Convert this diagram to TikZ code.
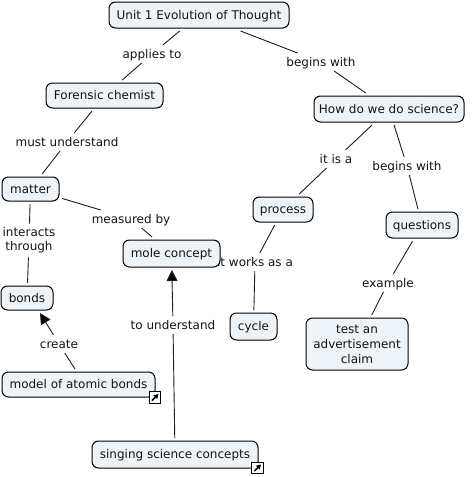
\documentclass[tikz,border=0pt]{standalone}
\usepackage{fontspec}
\setmainfont{DejaVu Sans}
\usetikzlibrary{arrows.meta}
\definecolor{conceptfill}{RGB}{237,243,246}
\definecolor{inkc}{RGB}{20,20,20}
\definecolor{linkc}{RGB}{30,30,30}
\tikzset{
  concept/.style 2 args={draw=black,line width=1pt,fill=conceptfill,rounded corners=6.5pt,
    minimum width=#1pt,minimum height=#2pt,inner sep=0pt,outer sep=3pt,align=center,text=inkc,
    font=\fontsize{12}{15}\selectfont},
  oneline/.style={text height=9.5pt,text depth=0.5pt},
  oneconcept/.style={text height=9.5pt,text depth=1.5pt},
  linklabel/.style={inner sep=1pt,outer sep=3pt,align=center,text=inkc,font=\fontsize{12}{15}\selectfont},
  link/.style={draw=linkc,line width=0.9pt},
  arrowlink/.style={link,-{Triangle[length=11pt,width=11pt,fill=black]}},
  badge/.style={draw=black,line width=1pt,fill=white,minimum size=11.5pt,inner sep=0pt,outer sep=0pt},
  badgearrow/.style={draw=black,line width=1.5pt,-{Triangle[length=4.5pt,width=5pt]}}
}
\begin{document}
\begin{tikzpicture}[x=1pt,y=-1pt]
\useasboundingbox (0,0) rectangle (472,477);
% linking phrases (drawn first: a concept box may cover them)
\node[linklabel,oneline] (lapplies) at (152,54) {applies to};
\node[linklabel,oneline] (lbegins1) at (321,62) {begins with};
\node[linklabel,oneline] (lmust) at (67,142) {must understand};
\node[linklabel,oneline] (litis) at (336,159) {it is a};
\node[linklabel,oneline] (lbegins2) at (407,166) {begins with};
\node[linklabel,oneline] (lmeasured) at (131,219) {measured by};
\node[linklabel] (linteracts) at (29,240.5) {interacts\\[-1pt]through};
\node[linklabel,oneline] (lworks) at (255,262) {it works as a};
\node[linklabel,oneline] (lexample) at (388,283) {example};
\node[linklabel,oneline] (lunder) at (173,325) {to understand};
\node[linklabel,oneline] (lcreate) at (59,344) {create};
% concepts
\node[concept={180}{26},oneconcept] (unit) at (199,15) {Unit 1 Evolution of Thought};
\node[concept={117}{25},oneconcept] (forensic) at (104.5,95.5) {Forensic chemist};
\node[concept={150}{26},oneconcept] (how) at (389,109) {How do we do science?};
\node[concept={57}{24},oneconcept] (matter) at (30.5,189) {matter};
\node[concept={60}{25},oneconcept] (process) at (283,209.5) {process};
\node[concept={72}{26},oneconcept] (questions) at (422,225) {questions};
\node[concept={97}{27},oneconcept] (mole) at (171.5,253.5) {mole concept};
\node[concept={52}{24},oneconcept] (bonds) at (27,298) {bonds};
\node[concept={47}{27},oneconcept] (cycle) at (253.5,326.5) {cycle};
\node[concept={102}{52}] (test) at (357,344) {test an\\advertisement\\claim};
\node[concept={153}{25},oneconcept] (model) at (78.5,384.5) {model of atomic bonds};
\node[concept={166}{27},oneconcept] (singing) at (175,454.5) {singing science concepts};
% connectors
\draw[link] (unit) -- (lapplies);
\draw[link] (lapplies) -- (forensic);
\draw[link] (unit) -- (lbegins1);
\draw[link] (lbegins1) -- (how);
\draw[link] (forensic) -- (lmust);
\draw[link] (lmust) -- (matter);
\draw[link] (matter) -- (linteracts);
\draw[link] (linteracts) -- (bonds);
\draw[link] (matter) -- (lmeasured);
\draw[link] (lmeasured) -- (mole);
\draw[link] (how) -- (litis);
\draw[link] (litis) -- (process);
\draw[link] (how) -- (lbegins2);
\draw[link] (lbegins2) -- (questions);
\draw[link] (process) -- (lworks);
\draw[link] (lworks) -- (cycle);
\draw[link] (questions) -- (lexample);
\draw[link] (lexample) -- (test);
\draw[link] ([xshift=-3.5pt]model.north) -- (lcreate);
\draw[arrowlink] (lcreate) -- ([xshift=13pt]bonds.south);
\draw[link] (singing) -- (lunder);
\draw[arrowlink] (lunder) -- (mole);
% shortcut badges
\node[badge] (bm) at (155,397.5) {};
\node[badge] (bs) at (257.5,468) {};
\draw[badgearrow] ([shift={(-3,3)}]bm.center) -- ([shift={(3.5,-3.5)}]bm.center);
\draw[badgearrow] ([shift={(-3,3)}]bs.center) -- ([shift={(3.5,-3.5)}]bs.center);
\end{tikzpicture}
\end{document}
